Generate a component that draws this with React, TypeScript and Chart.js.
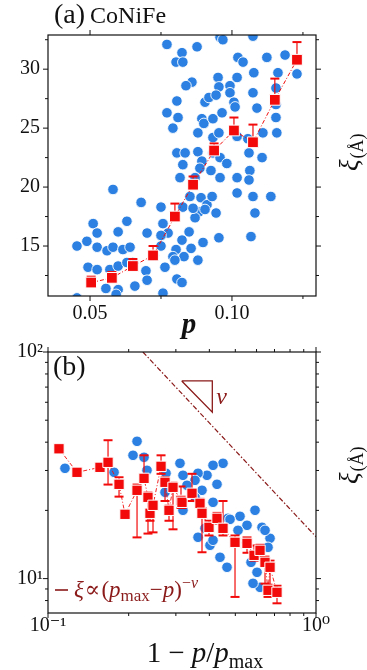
import { useEffect, useRef } from 'react';
import { Chart, registerables } from 'chart.js';
Chart.register(...registerables);

const FONT = '"Liberation Serif", "DejaVu Serif", serif';
const BLUE = '#2b80e2';
const RED = '#f20a0a';
const DARKRED = '#8b1a1a';
const INK = '#111111';

// ---------------- panel (a) ----------------
const aXRange = [0.0352, 0.1296];
const aYRange = [10.76, 32.9];
const aXTicks = [0.05, 0.1];
const aXTickLabels = ['0.05', '0.10'];
const aXMinor = [0.075, 0.125];
const aYTicks = [15, 20, 25, 30];
const aYTickLabels = ['15', '20', '25', '30'];
const aYMinor = [12.5, 17.5, 22.5, 27.5, 32.5];

const aBlue: [number, number][] = [
  [0.0771, 32.1], [0.0824, 31.4], [0.0877, 31.9], [0.0803, 30.6], [0.0827, 30.6], [0.0958, 32.7],
  [0.0968, 32.5], [0.1074, 32.8], [0.0951, 29.3], [0.0859, 28.9], [0.0838, 28.6], [0.1021, 31.0],
  [0.1018, 29.3], [0.1077, 29.7], [0.1123, 31.0], [0.1187, 31.2], [0.1162, 29.7], [0.1229, 29.6],
  [0.0806, 27.3], [0.0771, 26.3], [0.081, 25.9], [0.0792, 25.0], [0.0905, 27.2], [0.0919, 27.6],
  [0.0894, 25.8], [0.0901, 25.4], [0.0954, 28.5], [0.0993, 28.6], [0.0993, 28.0], [0.1007, 27.2],
  [0.1011, 26.8], [0.0965, 26.3], [0.0933, 25.8], [0.1088, 26.7], [0.1074, 28.0], [0.1155, 28.4],
  [0.1155, 25.9], [0.1158, 24.6], [0.1109, 24.6], [0.088, 24.6], [0.0933, 24.2], [0.0954, 24.6],
  [0.1018, 24.3], [0.1056, 24.1], [0.1039, 30.6], [0.0944, 27.8], [0.1155, 27.0],
  [0.0806, 22.9], [0.0835, 22.9], [0.0827, 21.9], [0.088, 23.0], [0.0894, 22.2], [0.0933, 22.9],
  [0.0958, 22.5], [0.0982, 22.0], [0.0887, 21.6], [0.0926, 21.4], [0.106, 22.9], [0.1106, 22.5],
  [0.1063, 21.4], [0.0817, 20.8], [0.087, 20.8], [0.0958, 20.8], [0.1018, 20.8], [0.106, 20.6],
  [0.1018, 19.5], [0.1074, 19.2], [0.1137, 19.2], [0.1081, 17.8], [0.1067, 15.8], [0.0954, 15.7],
  [0.0581, 19.8], [0.068, 18.7], [0.075, 18.3], [0.0852, 19.2], [0.0827, 18.3], [0.0891, 19.1],
  [0.0912, 18.5], [0.093, 19.2], [0.0944, 17.8], [0.0884, 17.9], [0.087, 17.4], [0.0905, 18.1],
  [0.0898, 15.3], [0.0849, 16.2], [0.0824, 15.5], [0.0775, 16.1], [0.075, 15.9], [0.075, 15.0],
  [0.0803, 14.7], [0.0831, 14.1], [0.0856, 14.8], [0.088, 13.8], [0.0792, 14.1], [0.0764, 13.2],
  [0.0725, 14.2], [0.0701, 16.1], [0.0757, 16.9], [0.063, 17.1], [0.0599, 16.2], [0.0511, 16.9],
  [0.0525, 16.1], [0.0489, 15.4], [0.0454, 15.0], [0.0525, 14.9], [0.056, 14.6], [0.0581, 14.9],
  [0.0616, 14.7], [0.0641, 14.9], [0.0493, 13.2], [0.0525, 13.0], [0.057, 13.0], [0.0599, 13.3],
  [0.0651, 13.6], [0.0697, 12.9], [0.0701, 12.1], [0.0658, 11.6], [0.0556, 11.4], [0.0599, 11.3],
  [0.0592, 10.9], [0.0757, 11.0], [0.0806, 12.2], [0.0824, 11.9], [0.0454, 10.6], [0.0799, 13.8],
  [0.063, 13.6], [0.0863, 18.2],
];
const aSqX = [0.0504, 0.0577, 0.0651, 0.0722, 0.0799, 0.0863, 0.0937, 0.1007, 0.1074, 0.1151, 0.1229];
const aSqY = [11.9, 12.3, 13.3, 14.2, 17.5, 20.2, 23.1, 24.8, 23.8, 27.4, 30.8];
const aSqErr = [0.5, 0.5, 0.6, 0.8, 1.1, 0.7, 0.6, 1.1, 1.5, 1.8, 1.5];

// ---------------- panel (b) ----------------
const bXRange = [0.1, 1];
const bYRange = [7.05, 100];
const bXTicks = [0.1, 1];
const bXTickLabels = ['10⁻¹', '10⁰'];
const bXMinor = [0.2, 0.3, 0.4, 0.5, 0.6, 0.7, 0.8, 0.9];
const bYTicks = [10, 100];
const bYTickLabels = ['10¹', '10²'];
const bYMinor = [8, 9, 20, 30, 40, 50, 60, 70, 80, 90];

const bBlue: [number, number][] = [
  [0.2149, 40.35], [0.1157, 30.67], [0.1764, 29.45], [0.2076, 35.0], [0.2282, 34.3], [0.2341, 30.05],
  [0.2756, 29.15], [0.3108, 32.27], [0.3189, 28.57], [0.2733, 24.04], [0.3189, 20.02], [0.4498, 32.27],
  [0.4128, 31.62], [0.392, 28.57], [0.3629, 29.15], [0.3536, 27.15], [0.3301, 25.81], [0.3755, 24.53],
  [0.3536, 22.85], [0.4128, 21.71], [0.5922, 20.02], [0.5205, 18.83], [0.4695, 18.45], [0.5528, 17.19],
  [0.6289, 16.84], [0.6737, 15.06], [0.6453, 16.33], [0.5117, 16.33], [0.3629, 15.22], [0.4022, 14.03],
  [0.4383, 12.42], [0.4655, 11.22], [0.4128, 14.76], [0.6182, 9.15], [0.5821, 9.53], [0.4777, 18.26],
  [0.6622, 13.74], [0.5722, 11.8], [0.6025, 10.66], [0.4272, 26.07], [0.3853, 16.67],
];
const bSqX = [0.1099, 0.1283, 0.1563, 0.1675, 0.1841, 0.1938, 0.2149, 0.2282, 0.2361, 0.2402, 0.2465,
  0.2641, 0.2733, 0.2828, 0.2927, 0.3135, 0.3162, 0.3446, 0.3691, 0.3755, 0.3988, 0.4272, 0.4498,
  0.4987, 0.5528, 0.5872, 0.6182, 0.6453, 0.6622, 0.6737, 0.7153];
const bSqY = [37.4, 29.45, 30.98, 32.6, 26.07, 19.22, 24.53, 27.7, 22.85, 19.42, 21.06,
  31.3, 26.61, 20.02, 25.29, 22.15, 21.71, 23.8, 21.49, 19.42, 16.84, 18.45, 16.67,
  14.46, 14.31, 12.67, 13.33, 11.8, 8.88, 11.22, 8.7];
const bSqLo = [36, 28.5, 30, 26, 23, 18.6, 15.2, 26.5, 15.8, 18, 16.0,
  29, 22, 18, 16.5, 20.5, 20.5, 22, 20.5, 13.07, 15.5, 17.5, 15.5,
  8.3, 13, 12, 12.5, 9.5, 8.3, 9.0, 7.78];
const bSqHi = [39, 30.5, 32, 40.8, 28, 19.9, 26, 35.0, 24, 20.2, 22,
  35.0, 28, 21, 26.5, 25.5, 22.5, 29.0, 22.5, 20.5, 18, 19.5, 22.0,
  15.5, 15.2, 14.0, 14.1, 12.5, 9.4, 12.0, 9.3];
const bFitX = [0.226, 1.0];
const bFitY = [100, 15.3];
const bTriX = [0.3155, 0.4103, 0.4103, 0.3155];
const bTriY = [74.5, 74.5, 54.3, 74.5];

// ---------------- helpers ----------------
type Seg = { t: string; size: number; style?: string; weight?: string; dy?: number; gap?: number };
function fontOf(s: Seg) {
  return `${s.style || 'normal'} ${s.weight || 'normal'} ${s.size}px ${FONT}`;
}
function measureRich(ctx: CanvasRenderingContext2D, segs: Seg[]) {
  let w = 0;
  for (const s of segs) {
    ctx.font = fontOf(s);
    w += ctx.measureText(s.t).width + (s.gap || 0);
  }
  return w;
}
function drawRich(ctx: CanvasRenderingContext2D, x: number, y: number, segs: Seg[], color: string) {
  let cx = x;
  ctx.fillStyle = color;
  ctx.textBaseline = 'alphabetic';
  ctx.textAlign = 'left';
  for (const s of segs) {
    ctx.font = fontOf(s);
    ctx.fillText(s.t, cx, y + (s.dy || 0));
    cx += ctx.measureText(s.t).width + (s.gap || 0);
  }
}

function framePlugin(xMajor: number[], xMinor: number[], yMajor: number[], yMinor: number[]) {
  return {
    id: 'frame',
    afterDraw(chart: any) {
      const { ctx, chartArea: a } = chart;
      const sx = chart.scales.x;
      const sy = chart.scales.y;
      ctx.save();
      ctx.strokeStyle = INK;
      ctx.lineWidth = 1.2;
      ctx.strokeRect(a.left, a.top, a.right - a.left, a.bottom - a.top);
      ctx.lineWidth = 1;
      const seg = (x1: number, y1: number, x2: number, y2: number) => {
        ctx.beginPath(); ctx.moveTo(x1, y1); ctx.lineTo(x2, y2); ctx.stroke();
      };
      const xt = (vals: number[], len: number) => vals.forEach((v) => {
        const p = sx.getPixelForValue(v);
        if (p < a.left - 0.5 || p > a.right + 0.5) return;
        seg(p, a.bottom, p, a.bottom + len);
        seg(p, a.top, p, a.top - len);
      });
      const yt = (vals: number[], len: number) => vals.forEach((v) => {
        const p = sy.getPixelForValue(v);
        if (p < a.top - 0.5 || p > a.bottom + 0.5) return;
        seg(a.left, p, a.left - len, p);
        seg(a.right, p, a.right + len, p);
      });
      xt(xMajor, 5); xt(xMinor, 3); yt(yMajor, 5); yt(yMinor, 3);
      ctx.restore();
    },
  };
}

function errPlugin(afterIndex: number, xs: number[], ys: number[], lo: number[], hi: number[]) {
  return {
    id: 'errbars',
    afterDatasetDraw(chart: any, args: any) {
      if (args.index !== afterIndex) return;
      const { ctx, chartArea: a } = chart;
      const sx = chart.scales.x;
      const sy = chart.scales.y;
      ctx.save();
      ctx.beginPath();
      ctx.rect(a.left, a.top, a.right - a.left, a.bottom - a.top);
      ctx.clip();
      ctx.strokeStyle = RED;
      xs.forEach((x, i) => {
        const px = sx.getPixelForValue(x);
        const pl = sy.getPixelForValue(lo[i]);
        const ph = sy.getPixelForValue(hi[i]);
        ctx.lineWidth = 1.2;
        ctx.beginPath(); ctx.moveTo(px, pl); ctx.lineTo(px, ph); ctx.stroke();
        ctx.lineWidth = 2;
        ctx.beginPath(); ctx.moveTo(px - 4.5, ph); ctx.lineTo(px + 4.5, ph); ctx.stroke();
        if (lo[i] < ys[i]) {
          ctx.beginPath(); ctx.moveTo(px - 4.5, pl); ctx.lineTo(px + 4.5, pl); ctx.stroke();
        }
      });
      ctx.restore();
    },
  };
}

function yTitle(ctx: CanvasRenderingContext2D, x: number, y: number) {
  ctx.save();
  ctx.translate(x, y);
  ctx.rotate(-Math.PI / 2);
  drawRich(ctx, 0, 0, [
    { t: 'ξ', size: 27, style: 'italic', gap: 1 },
    { t: '(Å)', size: 18, dy: 5 },
  ], INK);
  ctx.restore();
}

function axisCfg(type: string, range: number[], ticks: number[], labels: string[], horiz: boolean, size: number, pad: number) {
  return {
    type,
    position: horiz ? 'bottom' : 'left',
    min: range[0],
    max: range[1],
    afterBuildTicks: (s: any) => { s.ticks = ticks.map((v) => ({ value: v })); },
    afterFit: (s: any) => { if (horiz) s.height = size; else s.width = size; },
    grid: { display: false, drawTicks: false },
    border: { display: false },
    ticks: {
      autoSkip: false,
      maxRotation: 0,
      minRotation: 0,
      padding: pad,
      color: INK,
      font: { family: FONT, size: 20 },
      callback: (_v: any, i: number) => labels[i],
    },
  };
}

export default function App() {
  const refA = useRef<HTMLCanvasElement>(null);
  const refB = useRef<HTMLCanvasElement>(null);

  useEffect(() => {
    document.body.style.margin = '0';
    const aSq = aSqX.map((x, i) => ({ x, y: aSqY[i] }));
    const aHi = aSqY.map((y, i) => y + aSqErr[i]);
    const textA = {
      id: 'textA',
      afterDraw(chart: any) {
        const ctx = chart.ctx as CanvasRenderingContext2D;
        drawRich(ctx, 54, 23, [{ t: '(a)', size: 28, gap: 5 }, { t: 'CoNiFe', size: 24 }], INK);
        const seg: Seg[] = [{ t: 'p', size: 29, style: 'italic', weight: 'bold' }];
        const w = measureRich(ctx, seg);
        drawRich(ctx, 189 - w / 2, 333, seg, INK);
        yTitle(ctx, 358, 171);
      },
    };
    const ca = new Chart(refA.current!, {
      type: 'scatter',
      data: {
        datasets: [
          { data: aSq, pointStyle: 'rect', pointRadius: 7.6, backgroundColor: RED, borderColor: '#ffffff', borderWidth: 1, order: 0, clip: 0 } as any,
          { type: 'line', data: aSq, showLine: true, borderColor: RED, borderWidth: 1, borderDash: [4, 2, 1, 2], pointRadius: 0, fill: false, order: 1, clip: 0 } as any,
          { data: aBlue.map(([x, y]) => ({ x, y })), pointRadius: 5.3, backgroundColor: BLUE, borderColor: '#ffffff', borderWidth: 0.9, order: 3, clip: 0 } as any,
        ],
      },
      options: {
        responsive: false,
        animation: false,
        devicePixelRatio: 1,
        events: [],
        layout: { padding: { left: 0, top: 35, right: 51, bottom: 0 } },
        plugins: { legend: { display: false }, tooltip: { enabled: false } },
        scales: {
          x: axisCfg('linear', aXRange, aXTicks, aXTickLabels, true, 49, 6),
          y: axisCfg('linear', aYRange, aYTicks, aYTickLabels, false, 48, 8),
        } as any,
      },
      plugins: [errPlugin(2, aSqX, aSqY, aSqY, aHi), framePlugin(aXTicks, aXMinor, aYTicks, aYMinor), textA],
    });

    const bSq = bSqX.map((x, i) => ({ x, y: bSqY[i] }));
    const textB = {
      id: 'textB',
      afterDraw(chart: any) {
        const ctx = chart.ctx as CanvasRenderingContext2D;
        drawRich(ctx, 53, 40, [{ t: '(b)', size: 28 }], INK);
        // slope label
        const sx = chart.scales.x, sy = chart.scales.y;
        const tx = sx.getPixelForValue(bTriX[1]);
        const ty = (sy.getPixelForValue(bTriY[0]) + sy.getPixelForValue(bTriY[2])) / 2;
        drawRich(ctx, tx + 4, ty + 7, [{ t: 'ν', size: 24, style: 'italic' }], DARKRED);
        // legend
        ctx.save();
        ctx.strokeStyle = DARKRED;
        ctx.lineWidth = 1.6;
        ctx.beginPath(); ctx.moveTo(55, 255); ctx.lineTo(68, 255); ctx.stroke();
        ctx.restore();
        drawRich(ctx, 74, 262, [
          { t: 'ξ', size: 23, style: 'italic', gap: 1 },
          { t: '∝', size: 23, gap: 1 },
          { t: '(', size: 23 },
          { t: 'p', size: 23, style: 'italic' },
          { t: 'max', size: 17, dy: 4 },
          { t: '−', size: 23 },
          { t: 'p', size: 23, style: 'italic' },
          { t: ')', size: 23 },
          { t: '−', size: 16, dy: -9 },
          { t: 'ν', size: 16, style: 'italic', dy: -9 },
        ], DARKRED);
        // x title
        const segs: Seg[] = [
          { t: '1', size: 29, gap: 7 },
          { t: '−', size: 29, gap: 7 },
          { t: 'p', size: 29, style: 'italic' },
          { t: '/', size: 29 },
          { t: 'p', size: 29, style: 'italic' },
          { t: 'max', size: 20, dy: 6 },
        ];
        const w = measureRich(ctx, segs);
        drawRich(ctx, 205 - w / 2, 327, segs, INK);
        yTitle(ctx, 358, 149);
      },
    };
    const cb = new Chart(refB.current!, {
      type: 'scatter',
      data: {
        datasets: [
          { data: bSq, pointStyle: 'rect', pointRadius: 7.3, backgroundColor: RED, borderColor: '#ffffff', borderWidth: 1, order: 0, clip: 0 } as any,
          { type: 'line', data: bSq, showLine: true, borderColor: RED, borderWidth: 0.9, borderDash: [4, 2, 1, 2], pointRadius: 0, fill: false, order: 1, clip: 0 } as any,
          { data: bBlue.map(([x, y]) => ({ x, y })), pointRadius: 5.3, backgroundColor: BLUE, borderColor: '#ffffff', borderWidth: 0.9, order: 3, clip: 0 } as any,
          { type: 'line', data: bFitX.map((x, i) => ({ x, y: bFitY[i] })), showLine: true, borderColor: DARKRED, borderWidth: 1.2, borderDash: [5, 2, 1.5, 2], pointRadius: 0, fill: false, order: 4, clip: 0 } as any,
          { type: 'line', data: bTriX.map((x, i) => ({ x, y: bTriY[i] })), showLine: true, borderColor: DARKRED, borderWidth: 1.3, pointRadius: 0, fill: false, tension: 0, order: 4, clip: 0 } as any,
        ],
      },
      options: {
        responsive: false,
        animation: false,
        devicePixelRatio: 1,
        events: [],
        layout: { padding: { left: 0, top: 17, right: 51, bottom: 0 } },
        plugins: { legend: { display: false }, tooltip: { enabled: false } },
        scales: {
          x: axisCfg('logarithmic', bXRange, bXTicks, bXTickLabels, true, 57, 1),
          y: axisCfg('logarithmic', bYRange, bYTicks, bYTickLabels, false, 48, 5),
        } as any,
      },
      plugins: [errPlugin(2, bSqX, bSqY, bSqLo, bSqHi), framePlugin(bXTicks, bXMinor, bYTicks, bYMinor), textB],
    });

    return () => { ca.destroy(); cb.destroy(); };
  }, []);

  return (
    <div style={{ position: 'relative', width: 367, height: 670, background: '#ffffff', overflow: 'hidden' }}>
      <canvas ref={refA} width={367} height={345} style={{ position: 'absolute', left: 0, top: 0, width: 367, height: 345 }} />
      <canvas ref={refB} width={367} height={335} style={{ position: 'absolute', left: 0, top: 335, width: 367, height: 335 }} />
    </div>
  );
}
